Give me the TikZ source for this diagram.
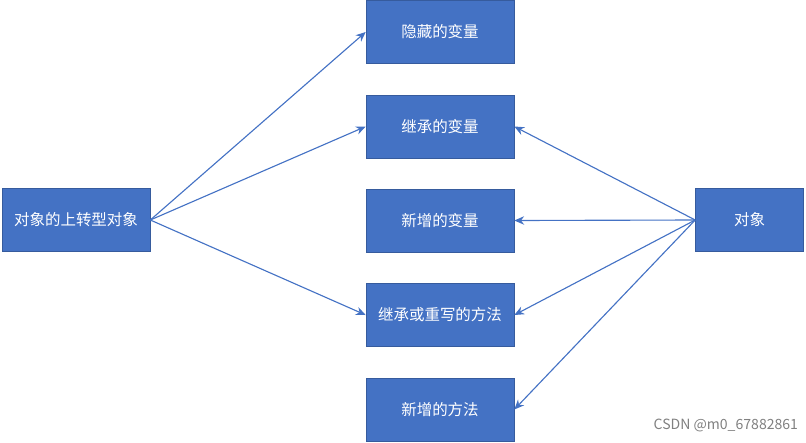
\documentclass[tikz,border=0pt]{standalone}
\usepackage{fontspec}
\setmainfont{Noto Sans CJK SC}
\usetikzlibrary{arrows.meta}
\definecolor{kasten}{RGB}{68,114,196}
\definecolor{pfeil}{RGB}{68,114,196}

\begin{document}
\begin{tikzpicture}[x=0.025cm, y=-0.025cm,
    box/.style={fill=kasten, draw=kasten!80!black, line width=0.4pt, text=white, minimum height=1.58cm, font=\fontsize{11}{13}\selectfont, inner sep=0pt},
    link/.style={pfeil, line width=0.8pt, -{Stealth[length=7pt, width=6pt]}}]

    \useasboundingbox (0,0) rectangle (806,442);

    \node[box, minimum width=3.7cm] (cast) at (76,220) {对象的上转型对象};
    \node[box, minimum width=2.7cm] (obj) at (749.5,220) {对象};

    \node[box, minimum width=3.7cm] (hidden) at (440,32) {隐藏的变量};
    \node[box, minimum width=3.7cm] (inherit) at (440,126.5) {继承的变量};
    \node[box, minimum width=3.7cm] (newvar) at (440,220.5) {新增的变量};
    \node[box, minimum width=3.7cm] (method) at (440,315) {继承或重写的方法};
    \node[box, minimum width=3.7cm] (newmeth) at (440,409.5) {新增的方法};

    % left side
    \draw[link] (cast.east) -- (hidden.west);
    \draw[link] (cast.east) -- (inherit.west);
    \draw[link] (cast.east) -- (method.west);

    % right side
    \draw[link] (obj.west) -- (inherit.east);
    \draw[link] (obj.west) -- (newvar.east);
    \draw[link] (obj.west) -- (method.east);
    \draw[link] (obj.west) -- (newmeth.east);

    \node[gray, font=\fontsize{10}{12}\selectfont, anchor=east] (mark) at (803,425) {CSDN @m0\_67882861};

\end{tikzpicture}
\end{document}
